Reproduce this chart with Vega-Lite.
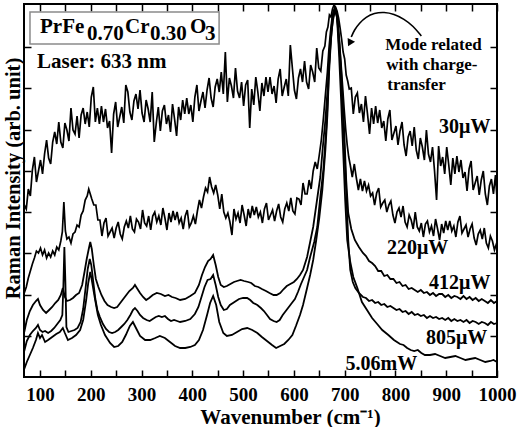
{
"$schema": "https://vega.github.io/schema/vega-lite/v6.json",
"width": 473, "height": 373,
"autosize": "none",
"padding": {"left": 24, "top": 4, "right": 23, "bottom": 50},
"config": {"view": {"stroke": "black", "strokeWidth": 2}, "font": "Liberation Serif"},
"datasets": {
"d30": [{"w":69,"I":172},{"w":73,"I":168},{"w":77,"I":188},{"w":81,"I":181},{"w":85,"I":207},{"w":89,"I":220},{"w":93,"I":195},{"w":97,"I":206},{"w":101,"I":217},{"w":105,"I":203},{"w":109,"I":223},{"w":113,"I":237},{"w":117,"I":219},{"w":121,"I":213},{"w":125,"I":235},{"w":129,"I":245},{"w":133,"I":233},{"w":137,"I":255},{"w":141,"I":235},{"w":145,"I":229},{"w":149,"I":254},{"w":153,"I":247},{"w":157,"I":236},{"w":161,"I":269},{"w":165,"I":247},{"w":169,"I":243},{"w":173,"I":261},{"w":177,"I":239},{"w":181,"I":262},{"w":185,"I":269},{"w":189,"I":253},{"w":193,"I":265},{"w":197,"I":250},{"w":201,"I":280},{"w":205,"I":290},{"w":209,"I":255},{"w":213,"I":269},{"w":217,"I":253},{"w":221,"I":271},{"w":225,"I":255},{"w":229,"I":268},{"w":233,"I":249},{"w":237,"I":256},{"w":241,"I":224},{"w":245,"I":263},{"w":249,"I":275},{"w":253,"I":250},{"w":257,"I":260},{"w":261,"I":270},{"w":265,"I":254},{"w":269,"I":292},{"w":273,"I":285},{"w":277,"I":265},{"w":281,"I":257},{"w":285,"I":276},{"w":289,"I":283},{"w":293,"I":268},{"w":297,"I":287},{"w":301,"I":264},{"w":305,"I":255},{"w":309,"I":277},{"w":313,"I":268},{"w":317,"I":255},{"w":321,"I":285},{"w":325,"I":235},{"w":329,"I":254},{"w":333,"I":270},{"w":337,"I":246},{"w":341,"I":266},{"w":345,"I":272},{"w":349,"I":253},{"w":353,"I":262},{"w":357,"I":245},{"w":361,"I":273},{"w":365,"I":258},{"w":369,"I":241},{"w":373,"I":270},{"w":377,"I":257},{"w":381,"I":277},{"w":385,"I":263},{"w":389,"I":279},{"w":393,"I":263},{"w":397,"I":272},{"w":401,"I":255},{"w":405,"I":280},{"w":409,"I":292},{"w":413,"I":266},{"w":417,"I":276},{"w":421,"I":285},{"w":425,"I":269},{"w":429,"I":287},{"w":433,"I":299},{"w":437,"I":279},{"w":441,"I":270},{"w":445,"I":290},{"w":449,"I":298},{"w":453,"I":285},{"w":457,"I":305},{"w":461,"I":283},{"w":465,"I":325},{"w":469,"I":275},{"w":473,"I":299},{"w":477,"I":291},{"w":481,"I":279},{"w":485,"I":309},{"w":489,"I":286},{"w":493,"I":279},{"w":497,"I":295},{"w":501,"I":271},{"w":505,"I":292},{"w":509,"I":297},{"w":513,"I":249},{"w":517,"I":288},{"w":521,"I":272},{"w":525,"I":300},{"w":529,"I":285},{"w":533,"I":266},{"w":537,"I":294},{"w":541,"I":281},{"w":545,"I":300},{"w":549,"I":285},{"w":553,"I":300},{"w":557,"I":283},{"w":561,"I":291},{"w":565,"I":274},{"w":569,"I":298},{"w":573,"I":308},{"w":577,"I":281},{"w":581,"I":290},{"w":585,"I":298},{"w":589,"I":281},{"w":593,"I":332},{"w":597,"I":309},{"w":601,"I":287},{"w":605,"I":278},{"w":609,"I":299},{"w":613,"I":308},{"w":617,"I":295},{"w":621,"I":316},{"w":625,"I":295},{"w":629,"I":288},{"w":633,"I":312},{"w":637,"I":305},{"w":641,"I":295},{"w":645,"I":329},{"w":649,"I":309},{"w":653,"I":306},{"w":657,"I":326},{"w":661,"I":331},{"w":664,"I":345},{"w":667,"I":350},{"w":670,"I":362},{"w":673,"I":360},{"w":676,"I":368},{"w":679,"I":372},{"w":682,"I":370},{"w":685,"I":366},{"w":688,"I":359},{"w":691,"I":349},{"w":694,"I":338},{"w":697,"I":325},{"w":700,"I":318},{"w":703,"I":302},{"w":706,"I":296},{"w":709,"I":288},{"w":713,"I":289},{"w":717,"I":263},{"w":721,"I":280},{"w":725,"I":284},{"w":729,"I":264},{"w":733,"I":273},{"w":737,"I":255},{"w":741,"I":281},{"w":745,"I":263},{"w":749,"I":243},{"w":753,"I":269},{"w":757,"I":253},{"w":761,"I":271},{"w":765,"I":254},{"w":769,"I":267},{"w":773,"I":249},{"w":777,"I":256},{"w":781,"I":236},{"w":785,"I":258},{"w":789,"I":267},{"w":793,"I":237},{"w":797,"I":244},{"w":801,"I":251},{"w":805,"I":232},{"w":809,"I":246},{"w":813,"I":255},{"w":817,"I":232},{"w":821,"I":221},{"w":825,"I":240},{"w":829,"I":246},{"w":833,"I":231},{"w":837,"I":250},{"w":841,"I":227},{"w":845,"I":218},{"w":849,"I":239},{"w":853,"I":230},{"w":857,"I":217},{"w":861,"I":247},{"w":865,"I":223},{"w":869,"I":215},{"w":873,"I":230},{"w":877,"I":206},{"w":881,"I":177},{"w":885,"I":231},{"w":889,"I":211},{"w":893,"I":220},{"w":897,"I":203},{"w":901,"I":230},{"w":905,"I":212},{"w":909,"I":192},{"w":913,"I":219},{"w":917,"I":203},{"w":921,"I":221},{"w":925,"I":205},{"w":929,"I":217},{"w":933,"I":199},{"w":937,"I":205},{"w":941,"I":186},{"w":945,"I":208},{"w":949,"I":216},{"w":953,"I":187},{"w":957,"I":194},{"w":961,"I":201},{"w":965,"I":182},{"w":969,"I":197},{"w":973,"I":206},{"w":977,"I":183},{"w":981,"I":172},{"w":985,"I":191},{"w":989,"I":198},{"w":993,"I":183},{"w":997,"I":202},{"w":1000,"I":179}],
"d220": [{"w":69,"I":84},{"w":73,"I":90},{"w":77,"I":99},{"w":81,"I":106},{"w":85,"I":113},{"w":89,"I":119},{"w":93,"I":126},{"w":97,"I":124},{"w":101,"I":129},{"w":105,"I":122},{"w":109,"I":127},{"w":113,"I":119},{"w":117,"I":124},{"w":121,"I":120},{"w":125,"I":126},{"w":129,"I":122},{"w":133,"I":130},{"w":137,"I":127},{"w":141,"I":136},{"w":144,"I":145},{"w":147,"I":175},{"w":150,"I":146},{"w":153,"I":138},{"w":157,"I":140},{"w":161,"I":134},{"w":165,"I":143},{"w":169,"I":145},{"w":173,"I":152},{"w":177,"I":150},{"w":181,"I":162},{"w":185,"I":166},{"w":189,"I":177},{"w":193,"I":181},{"w":196,"I":188},{"w":199,"I":183},{"w":202,"I":178},{"w":206,"I":172},{"w":210,"I":172},{"w":214,"I":157},{"w":218,"I":157},{"w":222,"I":141},{"w":226,"I":154},{"w":230,"I":159},{"w":234,"I":141},{"w":238,"I":145},{"w":242,"I":149},{"w":246,"I":139},{"w":250,"I":149},{"w":254,"I":155},{"w":258,"I":143},{"w":262,"I":138},{"w":266,"I":150},{"w":270,"I":156},{"w":274,"I":149},{"w":278,"I":161},{"w":282,"I":148},{"w":286,"I":145},{"w":290,"I":158},{"w":294,"I":155},{"w":298,"I":148},{"w":302,"I":167},{"w":306,"I":154},{"w":310,"I":151},{"w":314,"I":161},{"w":318,"I":147},{"w":322,"I":161},{"w":326,"I":165},{"w":330,"I":155},{"w":334,"I":161},{"w":338,"I":152},{"w":342,"I":169},{"w":346,"I":159},{"w":350,"I":147},{"w":354,"I":164},{"w":358,"I":155},{"w":362,"I":166},{"w":366,"I":157},{"w":370,"I":165},{"w":374,"I":154},{"w":378,"I":159},{"w":382,"I":148},{"w":386,"I":161},{"w":390,"I":167},{"w":394,"I":150},{"w":398,"I":154},{"w":402,"I":161},{"w":406,"I":153},{"w":410,"I":166},{"w":414,"I":177},{"w":418,"I":169},{"w":422,"I":180},{"w":426,"I":189},{"w":430,"I":185},{"w":434,"I":200},{"w":438,"I":190},{"w":442,"I":184},{"w":446,"I":192},{"w":450,"I":182},{"w":454,"I":168},{"w":458,"I":183},{"w":462,"I":165},{"w":466,"I":159},{"w":470,"I":164},{"w":474,"I":155},{"w":478,"I":142},{"w":482,"I":168},{"w":486,"I":158},{"w":490,"I":164},{"w":494,"I":154},{"w":498,"I":172},{"w":502,"I":162},{"w":506,"I":151},{"w":510,"I":168},{"w":514,"I":159},{"w":518,"I":171},{"w":522,"I":162},{"w":526,"I":170},{"w":530,"I":160},{"w":534,"I":165},{"w":538,"I":154},{"w":542,"I":168},{"w":546,"I":174},{"w":550,"I":157},{"w":554,"I":162},{"w":558,"I":167},{"w":562,"I":156},{"w":566,"I":166},{"w":570,"I":173},{"w":574,"I":160},{"w":578,"I":155},{"w":582,"I":168},{"w":586,"I":174},{"w":590,"I":166},{"w":594,"I":179},{"w":598,"I":166},{"w":602,"I":163},{"w":606,"I":179},{"w":610,"I":178},{"w":614,"I":172},{"w":618,"I":194},{"w":622,"I":183},{"w":626,"I":183},{"w":630,"I":197},{"w":634,"I":188},{"w":638,"I":206},{"w":642,"I":215},{"w":646,"I":208},{"w":650,"I":222},{"w":654,"I":237},{"w":658,"I":258},{"w":662,"I":282},{"w":666,"I":305},{"w":669,"I":328},{"w":672,"I":345},{"w":675,"I":358},{"w":678,"I":366},{"w":681,"I":369},{"w":684,"I":364},{"w":687,"I":352},{"w":690,"I":333},{"w":693,"I":312},{"w":696,"I":290},{"w":699,"I":268},{"w":702,"I":248},{"w":705,"I":232},{"w":708,"I":220},{"w":711,"I":212},{"w":715,"I":200},{"w":719,"I":213},{"w":723,"I":199},{"w":727,"I":187},{"w":731,"I":198},{"w":735,"I":186},{"w":739,"I":196},{"w":743,"I":186},{"w":747,"I":192},{"w":751,"I":181},{"w":755,"I":184},{"w":759,"I":172},{"w":763,"I":184},{"w":767,"I":189},{"w":771,"I":170},{"w":775,"I":174},{"w":779,"I":177},{"w":783,"I":165},{"w":787,"I":172},{"w":791,"I":176},{"w":795,"I":162},{"w":799,"I":154},{"w":803,"I":165},{"w":807,"I":169},{"w":811,"I":160},{"w":815,"I":171},{"w":819,"I":155},{"w":823,"I":150},{"w":827,"I":162},{"w":831,"I":157},{"w":835,"I":148},{"w":839,"I":165},{"w":843,"I":150},{"w":847,"I":146},{"w":851,"I":154},{"w":855,"I":140},{"w":859,"I":153},{"w":863,"I":156},{"w":867,"I":145},{"w":871,"I":151},{"w":875,"I":141},{"w":879,"I":158},{"w":883,"I":148},{"w":887,"I":137},{"w":891,"I":153},{"w":895,"I":144},{"w":899,"I":156},{"w":903,"I":147},{"w":907,"I":156},{"w":911,"I":146},{"w":915,"I":151},{"w":919,"I":140},{"w":923,"I":155},{"w":927,"I":161},{"w":931,"I":144},{"w":935,"I":148},{"w":939,"I":152},{"w":943,"I":140},{"w":947,"I":148},{"w":951,"I":153},{"w":955,"I":139},{"w":959,"I":132},{"w":963,"I":143},{"w":967,"I":147},{"w":971,"I":138},{"w":975,"I":149},{"w":979,"I":134},{"w":983,"I":129},{"w":987,"I":141},{"w":991,"I":136},{"w":995,"I":127},{"w":1000,"I":135}],
"d412": [{"w":69,"I":45},{"w":74,"I":57},{"w":80,"I":66},{"w":86,"I":72},{"w":92,"I":76},{"w":96,"I":78},{"w":100,"I":72},{"w":106,"I":67},{"w":112,"I":64},{"w":118,"I":67},{"w":124,"I":70},{"w":130,"I":74},{"w":136,"I":77},{"w":141,"I":82},{"w":145,"I":89},{"w":149,"I":80},{"w":153,"I":76},{"w":159,"I":77},{"w":165,"I":79},{"w":171,"I":82},{"w":177,"I":84},{"w":183,"I":92},{"w":188,"I":106},{"w":192,"I":118},{"w":196,"I":128},{"w":199,"I":135},{"w":202,"I":128},{"w":206,"I":112},{"w":210,"I":98},{"w":215,"I":90},{"w":221,"I":82},{"w":227,"I":76},{"w":233,"I":72},{"w":240,"I":70},{"w":246,"I":69},{"w":252,"I":70},{"w":258,"I":74},{"w":264,"I":78},{"w":270,"I":82},{"w":276,"I":86},{"w":283,"I":89},{"w":287,"I":92},{"w":292,"I":88},{"w":297,"I":84},{"w":303,"I":80},{"w":309,"I":77},{"w":315,"I":79},{"w":322,"I":82},{"w":330,"I":84},{"w":338,"I":83},{"w":346,"I":81},{"w":353,"I":82},{"w":360,"I":80},{"w":367,"I":79},{"w":376,"I":77},{"w":386,"I":78},{"w":396,"I":81},{"w":405,"I":84},{"w":413,"I":92},{"w":419,"I":102},{"w":425,"I":110},{"w":431,"I":116},{"w":436,"I":118},{"w":441,"I":122},{"w":446,"I":112},{"w":451,"I":100},{"w":456,"I":92},{"w":462,"I":90},{"w":468,"I":91},{"w":475,"I":93},{"w":482,"I":95},{"w":488,"I":96},{"w":495,"I":97},{"w":502,"I":96},{"w":510,"I":95},{"w":516,"I":94},{"w":523,"I":91},{"w":530,"I":90},{"w":537,"I":88},{"w":545,"I":86},{"w":552,"I":84},{"w":560,"I":82},{"w":566,"I":82},{"w":573,"I":84},{"w":580,"I":88},{"w":586,"I":91},{"w":593,"I":93},{"w":600,"I":95},{"w":606,"I":98},{"w":612,"I":102},{"w":618,"I":107},{"w":626,"I":120},{"w":632,"I":135},{"w":638,"I":150},{"w":645,"I":175},{"w":652,"I":200},{"w":657,"I":230},{"w":662,"I":257},{"w":666,"I":285},{"w":670,"I":317},{"w":674,"I":345},{"w":677,"I":357},{"w":681,"I":367},{"w":685,"I":360},{"w":689,"I":340},{"w":693,"I":307},{"w":699,"I":247},{"w":703,"I":197},{"w":707,"I":164},{"w":713,"I":148},{"w":720,"I":137},{"w":728,"I":130},{"w":736,"I":124},{"w":742,"I":121},{"w":748,"I":116},{"w":754,"I":114},{"w":760,"I":111},{"w":766,"I":106},{"w":772,"I":106},{"w":778,"I":101},{"w":784,"I":102},{"w":790,"I":98},{"w":796,"I":98},{"w":802,"I":94},{"w":808,"I":95},{"w":814,"I":91},{"w":820,"I":92},{"w":826,"I":88},{"w":832,"I":89},{"w":838,"I":87},{"w":844,"I":85},{"w":850,"I":87},{"w":856,"I":84},{"w":862,"I":85},{"w":868,"I":82},{"w":874,"I":84},{"w":880,"I":81},{"w":886,"I":83},{"w":892,"I":83},{"w":898,"I":80},{"w":904,"I":82},{"w":910,"I":79},{"w":916,"I":81},{"w":922,"I":80},{"w":928,"I":78},{"w":934,"I":81},{"w":940,"I":78},{"w":946,"I":80},{"w":952,"I":77},{"w":958,"I":79},{"w":964,"I":76},{"w":970,"I":78},{"w":976,"I":76},{"w":982,"I":74},{"w":988,"I":77},{"w":994,"I":74},{"w":1000,"I":76}],
"d805": [{"w":69,"I":26},{"w":74,"I":36},{"w":80,"I":42},{"w":86,"I":46},{"w":92,"I":49},{"w":96,"I":52},{"w":100,"I":47},{"w":105,"I":45},{"w":110,"I":46},{"w":116,"I":44},{"w":122,"I":46},{"w":128,"I":49},{"w":134,"I":53},{"w":140,"I":57},{"w":144,"I":62},{"w":146,"I":90},{"w":148,"I":130},{"w":150,"I":95},{"w":152,"I":50},{"w":156,"I":45},{"w":162,"I":46},{"w":168,"I":47},{"w":174,"I":49},{"w":180,"I":55},{"w":185,"I":68},{"w":190,"I":90},{"w":194,"I":108},{"w":198,"I":118},{"w":201,"I":112},{"w":205,"I":95},{"w":209,"I":78},{"w":213,"I":67},{"w":218,"I":60},{"w":224,"I":53},{"w":230,"I":48},{"w":236,"I":45},{"w":242,"I":44},{"w":248,"I":45},{"w":254,"I":47},{"w":260,"I":50},{"w":266,"I":53},{"w":272,"I":57},{"w":278,"I":62},{"w":283,"I":67},{"w":287,"I":69},{"w":292,"I":66},{"w":297,"I":62},{"w":303,"I":59},{"w":310,"I":57},{"w":316,"I":56},{"w":322,"I":58},{"w":328,"I":60},{"w":334,"I":61},{"w":340,"I":60},{"w":346,"I":61},{"w":352,"I":58},{"w":358,"I":56},{"w":364,"I":57},{"w":370,"I":56},{"w":376,"I":55},{"w":386,"I":56},{"w":396,"I":58},{"w":405,"I":63},{"w":412,"I":70},{"w":418,"I":80},{"w":424,"I":90},{"w":430,"I":97},{"w":436,"I":98},{"w":441,"I":102},{"w":446,"I":92},{"w":451,"I":80},{"w":456,"I":72},{"w":462,"I":67},{"w":468,"I":68},{"w":474,"I":72},{"w":480,"I":74},{"w":486,"I":76},{"w":492,"I":78},{"w":500,"I":79},{"w":508,"I":79},{"w":514,"I":77},{"w":520,"I":74},{"w":528,"I":72},{"w":535,"I":69},{"w":541,"I":66},{"w":547,"I":62},{"w":553,"I":58},{"w":560,"I":56},{"w":566,"I":55},{"w":572,"I":57},{"w":578,"I":62},{"w":584,"I":66},{"w":590,"I":70},{"w":596,"I":74},{"w":602,"I":78},{"w":608,"I":85},{"w":614,"I":93},{"w":620,"I":100},{"w":626,"I":107},{"w":632,"I":120},{"w":640,"I":135},{"w":646,"I":150},{"w":652,"I":180},{"w":658,"I":207},{"w":664,"I":250},{"w":667,"I":280},{"w":670,"I":322},{"w":674,"I":350},{"w":677,"I":362},{"w":681,"I":370},{"w":685,"I":362},{"w":689,"I":330},{"w":691,"I":317},{"w":697,"I":257},{"w":703,"I":187},{"w":707,"I":137},{"w":711,"I":107},{"w":716,"I":95},{"w":721,"I":89},{"w":728,"I":84},{"w":736,"I":80},{"w":742,"I":79},{"w":748,"I":76},{"w":754,"I":77},{"w":760,"I":74},{"w":766,"I":75},{"w":772,"I":72},{"w":778,"I":73},{"w":784,"I":70},{"w":790,"I":71},{"w":796,"I":69},{"w":802,"I":67},{"w":808,"I":68},{"w":814,"I":65},{"w":820,"I":66},{"w":826,"I":63},{"w":832,"I":65},{"w":838,"I":62},{"w":844,"I":63},{"w":850,"I":61},{"w":856,"I":62},{"w":862,"I":59},{"w":868,"I":61},{"w":874,"I":59},{"w":880,"I":60},{"w":886,"I":58},{"w":892,"I":59},{"w":898,"I":57},{"w":904,"I":59},{"w":910,"I":56},{"w":916,"I":58},{"w":922,"I":56},{"w":928,"I":57},{"w":934,"I":55},{"w":940,"I":57},{"w":946,"I":54},{"w":952,"I":56},{"w":958,"I":55},{"w":964,"I":53},{"w":970,"I":55},{"w":976,"I":54},{"w":982,"I":52},{"w":988,"I":55},{"w":994,"I":53},{"w":1000,"I":54}],
"d5mW": [{"w":69,"I":8},{"w":74,"I":15},{"w":80,"I":22},{"w":86,"I":29},{"w":92,"I":37},{"w":96,"I":44},{"w":100,"I":39},{"w":104,"I":42},{"w":110,"I":35},{"w":116,"I":37},{"w":124,"I":40},{"w":132,"I":43},{"w":139,"I":45},{"w":145,"I":49},{"w":149,"I":44},{"w":155,"I":37},{"w":163,"I":39},{"w":171,"I":42},{"w":179,"I":47},{"w":185,"I":57},{"w":191,"I":77},{"w":195,"I":94},{"w":199,"I":105},{"w":202,"I":97},{"w":208,"I":79},{"w":214,"I":62},{"w":220,"I":52},{"w":228,"I":42},{"w":238,"I":34},{"w":246,"I":30},{"w":254,"I":31},{"w":262,"I":35},{"w":269,"I":42},{"w":277,"I":51},{"w":283,"I":55},{"w":289,"I":49},{"w":297,"I":41},{"w":307,"I":37},{"w":317,"I":37},{"w":327,"I":39},{"w":336,"I":41},{"w":346,"I":39},{"w":356,"I":35},{"w":366,"I":31},{"w":376,"I":29},{"w":386,"I":29},{"w":396,"I":30},{"w":405,"I":32},{"w":413,"I":37},{"w":421,"I":47},{"w":429,"I":62},{"w":435,"I":74},{"w":441,"I":81},{"w":447,"I":72},{"w":453,"I":55},{"w":461,"I":44},{"w":468,"I":41},{"w":478,"I":42},{"w":488,"I":45},{"w":498,"I":48},{"w":508,"I":49},{"w":518,"I":47},{"w":528,"I":44},{"w":537,"I":40},{"w":547,"I":36},{"w":557,"I":32},{"w":565,"I":29},{"w":573,"I":31},{"w":581,"I":33},{"w":589,"I":37},{"w":597,"I":42},{"w":604,"I":51},{"w":612,"I":62},{"w":618,"I":72},{"w":626,"I":89},{"w":632,"I":102},{"w":638,"I":117},{"w":644,"I":137},{"w":650,"I":159},{"w":656,"I":187},{"w":662,"I":227},{"w":666,"I":262},{"w":669,"I":302},{"w":673,"I":337},{"w":677,"I":359},{"w":681,"I":369},{"w":685,"I":359},{"w":689,"I":322},{"w":693,"I":277},{"w":697,"I":227},{"w":701,"I":177},{"w":705,"I":137},{"w":711,"I":115},{"w":717,"I":100},{"w":725,"I":89},{"w":734,"I":75},{"w":744,"I":67},{"w":754,"I":59},{"w":764,"I":53},{"w":774,"I":47},{"w":786,"I":42},{"w":797,"I":37},{"w":809,"I":33},{"w":816,"I":32},{"w":823,"I":29},{"w":830,"I":27},{"w":837,"I":26},{"w":844,"I":27},{"w":851,"I":24},{"w":858,"I":22},{"w":868,"I":22},{"w":878,"I":23},{"w":888,"I":21},{"w":898,"I":19},{"w":908,"I":20},{"w":918,"I":21},{"w":928,"I":19},{"w":938,"I":17},{"w":947,"I":18},{"w":957,"I":19},{"w":967,"I":17},{"w":977,"I":15},{"w":987,"I":16},{"w":993,"I":17},{"w":1000,"I":15}],
"box": [{"w1":80.3,"w2":452.7,"I1":333,"I2":365}],
"formula": [{"t":"PrFe","w":100,"I":344},{"t":"0.70","w":192.6,"I":337},{"t":"Cr","w":267.5,"I":344},{"t":"0.30","w":316.7,"I":337},{"t":"O","w":395.6,"I":344},{"t":"3","w":425.1,"I":337}],
"laser": [{"t":"Laser: 633 nm","w":94,"I":309}],
"mode": [{"t":"Mode related","w":780,"I":327},{"t":"with charge-","w":782,"I":307},{"t":"transfer","w":784,"I":287}],
"power": [{"t":"30μW","w":987,"I":244},{"t":"220μW","w":904,"I":123},{"t":"412μW","w":987,"I":88},{"t":"805μW","w":981,"I":33},{"t":"5.06mW","w":843,"I":7}],
"arc": [{"w":851,"I":341},{"w":835,"I":351},{"w":817,"I":358},{"w":797,"I":363},{"w":778,"I":365},{"w":758,"I":364},{"w":742,"I":360},{"w":729,"I":354},{"w":719,"I":347},{"w":713,"I":340}],
"head": [{"w":711,"I":335}]
},
"layer": [
{"data": {"name": "box"}, "mark": {"type": "rect", "fill": "white", "stroke": "#8a8a8a", "strokeWidth": 1.5},
 "encoding": {
  "x": {"field": "w1", "type": "quantitative", "scale": {"domain": [68.5, 1000], "nice": false, "zero": false},
        "axis": {"orient": "top", "values": [100,150,200,250,300,350,400,450,500,550,600,650,700,750,800,850,900,950,1000], "labels": false, "tickSize": -7, "tickWidth": 1.5, "tickColor": "black", "domain": false, "grid": false, "title": null}},
  "x2": {"field": "w2"},
  "y": {"field": "I1", "type": "quantitative", "scale": {"domain": [0, 373], "nice": false, "zero": false},
        "axis": {"orient": "right", "values": [41,82,124,165,206,247,289,330], "labels": false, "tickSize": -7, "tickWidth": 1.5, "tickColor": "black", "domain": false, "grid": false, "title": null}},
  "y2": {"field": "I2"}
 }},
{"data": {"name": "formula"}, "mark": {"type": "text", "align": "left", "baseline": "alphabetic", "font": "Liberation Serif", "fontWeight": "bold", "fontSize": 21, "color": "black"},
 "encoding": {"x": {"field": "w", "type": "quantitative", "axis": null}, "y": {"field": "I", "type": "quantitative", "axis": null}, "text": {"field": "t"}}},
{"data": {"name": "laser"}, "mark": {"type": "text", "align": "left", "baseline": "alphabetic", "font": "Liberation Serif", "fontWeight": "bold", "fontSize": 21, "color": "black"},
 "encoding": {"x": {"field": "w", "type": "quantitative", "axis": null}, "y": {"field": "I", "type": "quantitative", "axis": null}, "text": {"field": "t"}}},
{"data": {"name": "mode"}, "mark": {"type": "text", "align": "left", "baseline": "alphabetic", "font": "Liberation Serif", "fontWeight": "bold", "fontSize": 17, "color": "black"},
 "encoding": {"x": {"field": "w", "type": "quantitative", "axis": null}, "y": {"field": "I", "type": "quantitative", "axis": null}, "text": {"field": "t"}}},
{"data": {"name": "power"}, "mark": {"type": "text", "align": "right", "baseline": "alphabetic", "font": "Liberation Serif", "fontWeight": "bold", "fontSize": 20, "color": "black"},
 "encoding": {"x": {"field": "w", "type": "quantitative", "axis": null}, "y": {"field": "I", "type": "quantitative", "axis": null}, "text": {"field": "t"}}},
{"data": {"name": "arc"}, "mark": {"type": "line", "color": "black", "strokeWidth": 1.6, "interpolate": "basis"},
 "encoding": {"x": {"field": "w", "type": "quantitative", "axis": null}, "y": {"field": "I", "type": "quantitative", "axis": null}}},
{"data": {"name": "head"}, "mark": {"type": "point", "shape": "triangle", "filled": true, "color": "black", "size": 70, "angle": 207, "opacity": 1},
 "encoding": {"x": {"field": "w", "type": "quantitative", "axis": null}, "y": {"field": "I", "type": "quantitative", "axis": null}}},
{"data": {"name": "d30"}, "mark": {"type": "line", "color": "black", "strokeWidth": 1.7},
 "encoding": {"x": {"field": "w", "type": "quantitative", "axis": null}, "y": {"field": "I", "type": "quantitative", "axis": null}}},
{"data": {"name": "d220"}, "mark": {"type": "line", "color": "black", "strokeWidth": 1.7},
 "encoding": {"x": {"field": "w", "type": "quantitative", "axis": null}, "y": {"field": "I", "type": "quantitative", "axis": null}}},
{"data": {"name": "d412"}, "mark": {"type": "line", "color": "black", "strokeWidth": 1.8},
 "encoding": {"x": {"field": "w", "type": "quantitative", "axis": null}, "y": {"field": "I", "type": "quantitative", "axis": null}}},
{"data": {"name": "d805"}, "mark": {"type": "line", "color": "black", "strokeWidth": 1.8},
 "encoding": {"x": {"field": "w", "type": "quantitative", "axis": null}, "y": {"field": "I", "type": "quantitative", "axis": null}}},
{"data": {"name": "d5mW"}, "mark": {"type": "line", "color": "black", "strokeWidth": 1.8},
 "encoding": {
  "x": {"field": "w", "type": "quantitative",
        "axis": {"orient": "bottom", "values": [100,150,200,250,300,350,400,450,500,550,600,650,700,750,800,850,900,950,1000], "format": "d", "labelExpr": "datum.value % 100 === 0 ? datum.label : ''", "labelFlush": false, "labelOverlap": false, "tickSize": -7, "tickWidth": 1.5, "tickColor": "black", "domain": false, "grid": false, "labelFont": "Liberation Serif", "labelFontWeight": "bold", "labelFontSize": 19, "labelColor": "black", "labelPadding": 15, "title": "Wavenumber (cm⁻¹)", "titleFont": "Liberation Serif", "titleFontWeight": "bold", "titleFontSize": 21, "titleColor": "black", "titleX": 266, "titleY": 46, "titleBaseline": "alphabetic", "titleAlign": "center"}},
  "y": {"field": "I", "type": "quantitative",
        "axis": {"orient": "left", "values": [41,82,124,165,206,247,289,330], "labels": false, "tickSize": -7, "tickWidth": 1.5, "tickColor": "black", "domain": false, "grid": false, "title": "Raman Intensity (arb. unit)", "titleFont": "Liberation Serif", "titleFontWeight": "bold", "titleFontSize": 20.5, "titleColor": "black", "titleX": -5, "titleY": 174, "titleAngle": 270, "titleBaseline": "alphabetic", "titleAlign": "center"}}
 }}
],
"resolve": {"axis": {"x": "independent", "y": "independent"}}
}
